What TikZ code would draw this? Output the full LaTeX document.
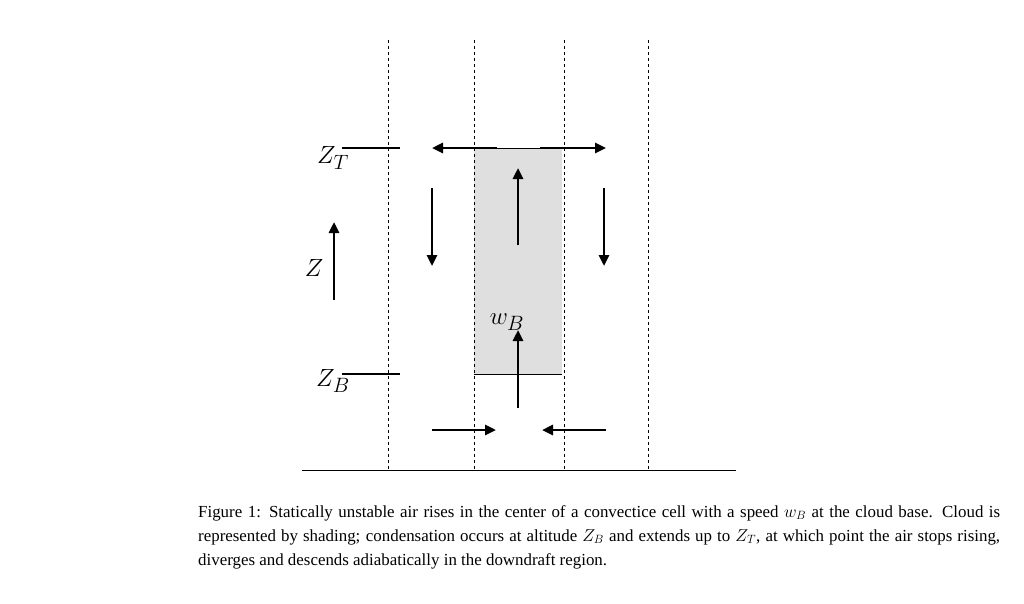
\documentclass[tikz,border=0pt]{standalone}
\usepackage{fontspec}
\setmainfont{Liberation Serif}
\usetikzlibrary{arrows.meta}
\begin{document}
\begin{tikzpicture}[x=1pt,y=-1pt,
  dl/.style={dashed,line width=1pt},
  ar/.style={-{Triangle[length=11pt,width=10pt]},line width=2.6pt},
  lab/.style={font=\fontsize{28}{32}\selectfont}]
\useasboundingbox (0,0) rectangle (1024,603);
\fill[gray!25] (474,148) rectangle (562,374);
\draw[line width=0.8pt] (474,148)--(562,148) (474,374)--(562,374);
\foreach \x in {388,474,564,648} \draw[dl] (\x,40)--(\x,470);
\draw[line width=1pt] (302,470)--(736,470);
\draw[line width=1.8pt] (342,148)--(400,148) (342,374)--(400,374);
\node[lab] (zt) at (333,158) {$Z_T$};
\node[lab] (zb) at (333,381) {$Z_B$};
\node[lab] (z) at (314,268) {$Z$};
\node[lab] (wb) at (507,322) {$w_B$};
\coordinate (a1) at (334,300); \coordinate (a2) at (334,222);
\draw[ar] (a1)--(a2);
\draw[ar] (497,148)--(432,148);
\draw[ar] (540,148)--(606,148);
\draw[ar] (432,188)--(432,266);
\draw[ar] (604,188)--(604,266);
\draw[ar] (518,245)--(518,168);
\draw[ar] (518,408)--(518,330);
\draw[ar] (432,430)--(496,430);
\draw[ar] (606,430)--(542,430);
\node[anchor=north west,text width=802pt,align=justify,inner sep=0pt,
  font=\fontsize{16.9}{24}\selectfont] (cap) at (198,505)
{Figure 1: Statically unstable air rises in the center of a convectice cell with a speed $w_B$ at the cloud base. Cloud is represented by shading; condensation occurs at altitude $Z_B$ and extends up to $Z_T$, at which point the air stops rising, diverges and descends adiabatically in the downdraft region.};
\end{tikzpicture}
\end{document}
